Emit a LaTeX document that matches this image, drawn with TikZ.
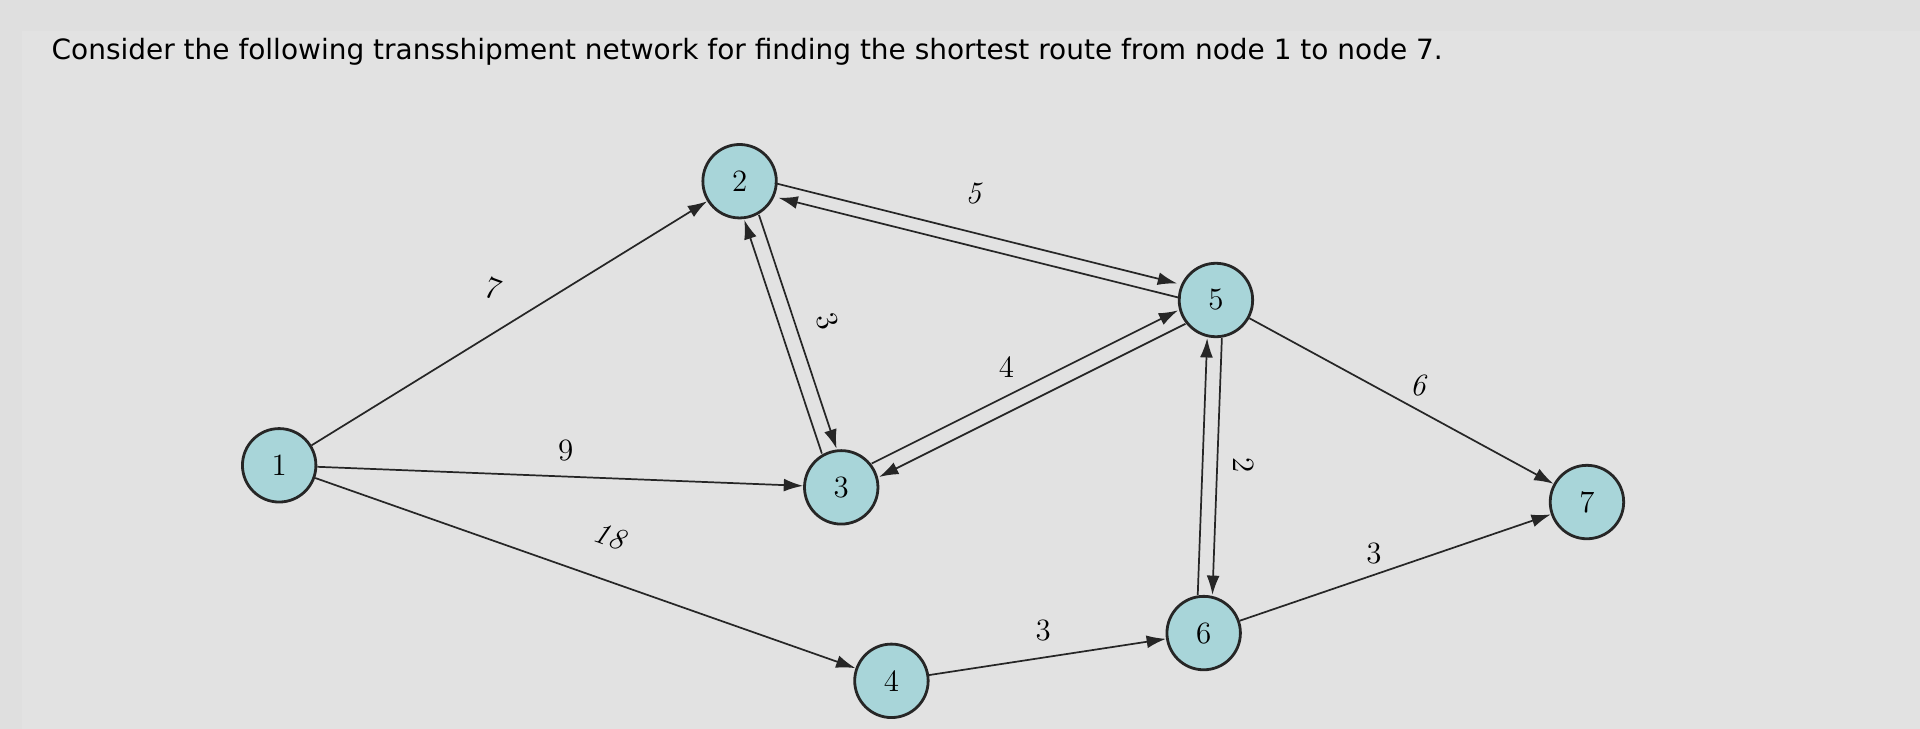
\documentclass[tikz,border=0pt]{standalone}
\usepackage{fontspec}
\newfontfamily\sansf{DejaVu Sans}
\usetikzlibrary{arrows.meta}
\definecolor{nodefill}{HTML}{A8D5D9}
\definecolor{bg}{HTML}{E2E2E2}
\begin{document}
\begin{tikzpicture}[x=0.02cm,y=-0.02cm,
  nd/.style={circle,draw=black!85,line width=1.3pt,fill=nodefill,minimum size=1.2cm,inner sep=0pt,font=\Large},
  arr/.style={-{Latex[length=9pt,width=6pt]},thick,black!85},
  lab/.style={font=\Large}]
\fill[gray!25] (0,0) rectangle (1568,595);
\fill[bg] (18,25) rectangle (1568,595);
\useasboundingbox (0,0) rectangle (1568,595);
\node[anchor=west,font=\sansf\fontsize{13}{15}\selectfont] (t) at (36,42) {Consider the following transshipment network for finding the shortest route from node 1 to node 7.};
\node[nd] (n1) at (228,380) {1};
\node[nd] (n2) at (604,148) {2};
\node[nd] (n3) at (687,398) {3};
\node[nd] (n4) at (728,556) {4};
\node[nd] (n5) at (993,245) {5};
\node[nd] (n6) at (983,517) {6};
\node[nd] (n7) at (1296,410) {7};
\draw[arr] (n1) -- (n2);
\draw[arr] (n1) -- (n3);
\draw[arr] (n1) -- (n4);
\draw[arr] (n4) -- (n6);
\draw[arr] (n6) -- (n7);
\draw[arr] (n5) -- (n7);
\draw[arr,transform canvas={xshift=-0.03cm,yshift=0.12cm}] (n2) -- (n5);
\draw[arr,transform canvas={xshift=0.03cm,yshift=-0.12cm}] (n5) -- (n2);
\draw[arr,transform canvas={xshift=0.12cm,yshift=0.04cm}] (n2) -- (n3);
\draw[arr,transform canvas={xshift=-0.12cm,yshift=-0.04cm}] (n3) -- (n2);
\draw[arr,transform canvas={xshift=-0.06cm,yshift=0.11cm}] (n3) -- (n5);
\draw[arr,transform canvas={xshift=0.06cm,yshift=-0.11cm}] (n5) -- (n3);
\draw[arr,transform canvas={xshift=0.12cm}] (n5) -- (n6);
\draw[arr,transform canvas={xshift=-0.12cm}] (n6) -- (n5);
\node[lab,rotate=-20] (l12) at (403,236) {7};
\node[lab] (l13) at (462,368) {9};
\node[lab,rotate=-20] (l14) at (498,438) {\itshape 18};
\node[lab] (l25) at (795,158) {\itshape 5};
\node[lab,rotate=-70] (l23) at (676,262) {3};
\node[lab] (l35) at (822,300) {4};
\node[lab,rotate=-90] (l56) at (1016,380) {2};
\node[lab] (l57) at (1158,315) {\itshape 6};
\node[lab] (l46) at (852,515) {3};
\node[lab] (l67) at (1122,452) {3};
\end{tikzpicture}
\end{document}
